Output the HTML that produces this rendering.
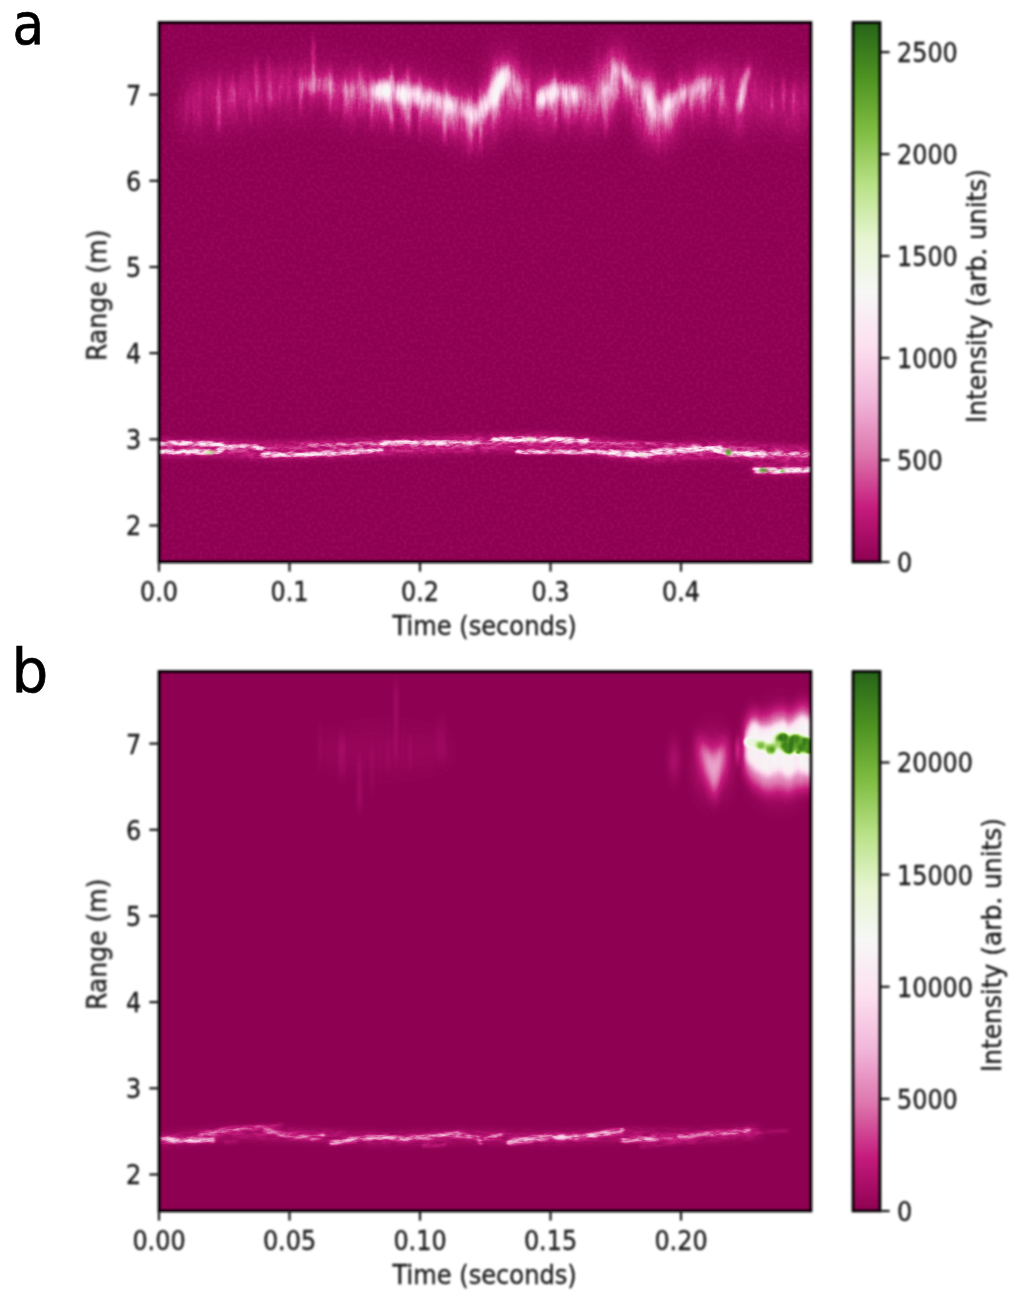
<!DOCTYPE html>
<html lang="en"><head><meta charset="utf-8"><title>Range-time intensity maps</title>
<style>html,body{margin:0;padding:0;background:#fff}body{width:1025px;height:1296px;overflow:hidden}svg{display:block}text{white-space:pre}</style>
</head><body>
<svg width="1025" height="1296" viewBox="0 0 1025 1296">
<defs>
<filter id="cmA1" filterUnits="userSpaceOnUse" x="150" y="15" width="670" height="285" color-interpolation-filters="sRGB"><feTurbulence type="fractalNoise" baseFrequency="0.11 0.02" numOctaves="3" seed="11" result="s"/><feColorMatrix in="s" type="matrix" values="2.2 0 0 0 -0.6  2.2 0 0 0 -0.6  2.2 0 0 0 -0.6  0 0 0 0 1" result="s2"/><feComposite in="SourceGraphic" in2="s2" operator="arithmetic" k1="0.6" k2="0.58" k3="0" k4="0" result="m"/><feTurbulence type="fractalNoise" baseFrequency="0.28" numOctaves="1" seed="7" result="n"/><feColorMatrix in="n" type="matrix" values="0.06 0 0 0 -0.0265  0.06 0 0 0 -0.0265  0.06 0 0 0 -0.0265  0 0 0 0 1" result="n2"/><feComposite in="m" in2="n2" operator="arithmetic" k1="0" k2="1" k3="1" k4="0"/><feComponentTransfer><feFuncR type="table" tableValues="0.5569 0.7725 0.8706 0.9451 0.9922 0.9686 0.9686 0.9686 0.9686 0.9686 0.9686"/><feFuncG type="table" tableValues="0.0039 0.1059 0.4667 0.7137 0.8784 0.9686 0.9686 0.9686 0.9686 0.9686 0.9686"/><feFuncB type="table" tableValues="0.3216 0.4902 0.6824 0.8549 0.9373 0.9686 0.9686 0.9686 0.9686 0.9686 0.9686"/></feComponentTransfer></filter>
<filter id="cmA2" filterUnits="userSpaceOnUse" x="150" y="300" width="670" height="270" color-interpolation-filters="sRGB"><feTurbulence type="fractalNoise" baseFrequency="0.11 0.3" numOctaves="3" seed="5" result="s"/><feColorMatrix in="s" type="matrix" values="2.2 0 0 0 -0.6  2.2 0 0 0 -0.6  2.2 0 0 0 -0.6  0 0 0 0 1" result="s2"/><feComposite in="SourceGraphic" in2="s2" operator="arithmetic" k1="0.8" k2="0.42" k3="0" k4="0" result="m"/><feTurbulence type="fractalNoise" baseFrequency="0.28" numOctaves="1" seed="7" result="n"/><feColorMatrix in="n" type="matrix" values="0.06 0 0 0 -0.0265  0.06 0 0 0 -0.0265  0.06 0 0 0 -0.0265  0 0 0 0 1" result="n2"/><feComposite in="m" in2="n2" operator="arithmetic" k1="0" k2="1" k3="1" k4="0"/><feComponentTransfer><feFuncR type="table" tableValues="0.5569 0.7725 0.8706 0.9451 0.9922 0.9686 0.9020 0.7216 0.4980 0.3020 0.1529"/><feFuncG type="table" tableValues="0.0039 0.1059 0.4667 0.7137 0.8784 0.9686 0.9608 0.8824 0.7373 0.5725 0.3922"/><feFuncB type="table" tableValues="0.3216 0.4902 0.6824 0.8549 0.9373 0.9686 0.8157 0.5255 0.2549 0.1294 0.0980"/></feComponentTransfer></filter>
<filter id="cmB1" filterUnits="userSpaceOnUse" x="150" y="664" width="670" height="336" color-interpolation-filters="sRGB"><feTurbulence type="fractalNoise" baseFrequency="0.14 0.025" numOctaves="2" seed="3" result="s"/><feColorMatrix in="s" type="matrix" values="2.2 0 0 0 -0.6  2.2 0 0 0 -0.6  2.2 0 0 0 -0.6  0 0 0 0 1" result="s2"/><feComposite in="SourceGraphic" in2="s2" operator="arithmetic" k1="0.1" k2="0.9" k3="0" k4="0"/><feComponentTransfer><feFuncR type="table" tableValues="0.5569 0.7725 0.8706 0.9451 0.9922 0.9686 0.9020 0.7216 0.4980 0.3020 0.1529"/><feFuncG type="table" tableValues="0.0039 0.1059 0.4667 0.7137 0.8784 0.9686 0.9608 0.8824 0.7373 0.5725 0.3922"/><feFuncB type="table" tableValues="0.3216 0.4902 0.6824 0.8549 0.9373 0.9686 0.8157 0.5255 0.2549 0.1294 0.0980"/></feComponentTransfer></filter>
<filter id="cmB2" filterUnits="userSpaceOnUse" x="150" y="1000" width="670" height="220" color-interpolation-filters="sRGB"><feTurbulence type="fractalNoise" baseFrequency="0.09 0.3" numOctaves="3" seed="9" result="s"/><feColorMatrix in="s" type="matrix" values="2.2 0 0 0 -0.6  2.2 0 0 0 -0.6  2.2 0 0 0 -0.6  0 0 0 0 1" result="s2"/><feComposite in="SourceGraphic" in2="s2" operator="arithmetic" k1="0.7" k2="0.45" k3="0" k4="0"/><feComponentTransfer><feFuncR type="table" tableValues="0.5569 0.7725 0.8706 0.9451 0.9922 0.9686 0.9020 0.7216 0.4980 0.3020 0.1529"/><feFuncG type="table" tableValues="0.0039 0.1059 0.4667 0.7137 0.8784 0.9686 0.9608 0.8824 0.7373 0.5725 0.3922"/><feFuncB type="table" tableValues="0.3216 0.4902 0.6824 0.8549 0.9373 0.9686 0.8157 0.5255 0.2549 0.1294 0.0980"/></feComponentTransfer></filter>
<filter id="bHaze" filterUnits="userSpaceOnUse" x="100" y="0" width="780" height="1296" color-interpolation-filters="sRGB"><feGaussianBlur stdDeviation="7 16"/></filter>
<filter id="bGlow" filterUnits="userSpaceOnUse" x="100" y="0" width="780" height="1296" color-interpolation-filters="sRGB"><feGaussianBlur stdDeviation="3.5 9"/></filter>
<filter id="bCore" filterUnits="userSpaceOnUse" x="100" y="0" width="780" height="1296" color-interpolation-filters="sRGB"><feGaussianBlur stdDeviation="2.2 4.5"/></filter>
<filter id="bStreak" filterUnits="userSpaceOnUse" x="100" y="0" width="780" height="1296" color-interpolation-filters="sRGB"><feGaussianBlur stdDeviation="1.6 7"/></filter>
<filter id="bLine" filterUnits="userSpaceOnUse" x="100" y="0" width="780" height="1296" color-interpolation-filters="sRGB"><feGaussianBlur stdDeviation="1.3 1.1"/></filter>
<filter id="bLineB" filterUnits="userSpaceOnUse" x="100" y="0" width="780" height="1296" color-interpolation-filters="sRGB"><feGaussianBlur stdDeviation="1.7 1.4"/></filter>
<filter id="bLineG" filterUnits="userSpaceOnUse" x="100" y="0" width="780" height="1296" color-interpolation-filters="sRGB"><feGaussianBlur stdDeviation="3 3.2"/></filter>
<filter id="bSpot" filterUnits="userSpaceOnUse" x="100" y="0" width="780" height="1296" color-interpolation-filters="sRGB"><feGaussianBlur stdDeviation="0.9 0.9"/></filter>
<filter id="bHalo" filterUnits="userSpaceOnUse" x="100" y="0" width="780" height="1296" color-interpolation-filters="sRGB"><feGaussianBlur stdDeviation="3.2 6"/></filter>
<filter id="bHalo2" filterUnits="userSpaceOnUse" x="100" y="0" width="780" height="1296" color-interpolation-filters="sRGB"><feGaussianBlur stdDeviation="2.0 3.0"/></filter>
<filter id="bHaloW" filterUnits="userSpaceOnUse" x="100" y="0" width="780" height="1296" color-interpolation-filters="sRGB"><feGaussianBlur stdDeviation="5 14"/></filter>
<filter id="bGreen" filterUnits="userSpaceOnUse" x="100" y="0" width="780" height="1296" color-interpolation-filters="sRGB"><feGaussianBlur stdDeviation="1.6 1.6"/></filter>
<filter id="bFaint" filterUnits="userSpaceOnUse" x="100" y="0" width="780" height="1296" color-interpolation-filters="sRGB"><feGaussianBlur stdDeviation="3 10"/></filter>
<filter id="soft" filterUnits="userSpaceOnUse" x="0" y="0" width="1025" height="1296" color-interpolation-filters="sRGB"><feGaussianBlur stdDeviation="0.85"/></filter>
<filter id="spotcm" filterUnits="userSpaceOnUse" x="150" y="400" width="670" height="120" color-interpolation-filters="sRGB"><feGaussianBlur stdDeviation="0.9"/><feComponentTransfer><feFuncR type="table" tableValues="0.5569 0.7725 0.8706 0.9451 0.9922 0.9686 0.9020 0.7216 0.4980 0.3020 0.1529"/><feFuncG type="table" tableValues="0.0039 0.1059 0.4667 0.7137 0.8784 0.9686 0.9608 0.8824 0.7373 0.5725 0.3922"/><feFuncB type="table" tableValues="0.3216 0.4902 0.6824 0.8549 0.9373 0.9686 0.8157 0.5255 0.2549 0.1294 0.0980"/></feComponentTransfer></filter>
<linearGradient id="piyg" x1="0" y1="1" x2="0" y2="0">
<stop offset="0.0" stop-color="rgb(142,1,82)"/>
<stop offset="0.1" stop-color="rgb(197,27,125)"/>
<stop offset="0.2" stop-color="rgb(222,119,174)"/>
<stop offset="0.3" stop-color="rgb(241,182,218)"/>
<stop offset="0.4" stop-color="rgb(253,224,239)"/>
<stop offset="0.5" stop-color="rgb(247,247,247)"/>
<stop offset="0.6" stop-color="rgb(230,245,208)"/>
<stop offset="0.7" stop-color="rgb(184,225,134)"/>
<stop offset="0.8" stop-color="rgb(127,188,65)"/>
<stop offset="0.9" stop-color="rgb(77,146,33)"/>
<stop offset="1.0" stop-color="rgb(39,100,25)"/>
</linearGradient>
<clipPath id="clipA"><rect x="159.0" y="22.5" width="652.0" height="539.5"/></clipPath>
<clipPath id="clipB"><rect x="159.0" y="671.5" width="652.0" height="539.5"/></clipPath>
</defs>
<rect width="1025" height="1296" fill="#fff"/>
<rect x="159.0" y="22.5" width="652.0" height="539.5" fill="#8e0152"/>
<g clip-path="url(#clipA)"><g filter="url(#cmA1)">
<rect x="150" y="15" width="670" height="285" fill="#000"/>
<g filter="url(#bHaze)">
<polyline points="197.0,106.0 222.0,99.0 254.0,94.0 290.0,90.0 312.0,86.0 350.0,95.0 380.0,99.0 400.0,99.0 420.0,102.0 439.0,106.0 458.0,114.0 471.0,121.0 482.0,116.0 492.0,106.0 500.0,90.0 505.0,79.0 511.0,86.0 517.0,95.0 530.0,103.0 547.0,104.0 560.0,99.0 575.0,102.0 592.0,103.0 604.0,98.0 610.0,84.0 615.0,72.0 622.0,80.0 630.0,87.0 644.0,93.0 652.0,108.0 658.0,123.0 669.0,108.0 688.0,98.0 711.0,89.0 730.0,98.0 741.0,106.0 747.0,86.0 770.0,101.0 790.0,104.0 808.0,106.0" fill="none" stroke="#808080" stroke-width="38" stroke-opacity="0.18" stroke-linecap="round" stroke-linejoin="round"/>
<polyline points="350.0,95.0 380.0,99.0 400.0,99.0 420.0,102.0 439.0,106.0 458.0,114.0 471.0,121.0 482.0,116.0 492.0,106.0 500.0,90.0 505.0,79.0 511.0,86.0 517.0,95.0 530.0,103.0 547.0,104.0 560.0,99.0 575.0,102.0 592.0,103.0 604.0,98.0 610.0,84.0 615.0,72.0 622.0,80.0 630.0,87.0 644.0,93.0 652.0,108.0 658.0,123.0 669.0,108.0 688.0,98.0 711.0,89.0 730.0,98.0 741.0,106.0" fill="none" stroke="#808080" stroke-width="30" stroke-opacity="0.17" stroke-linecap="round" stroke-linejoin="round"/>
</g>
<g filter="url(#bGlow)">
<polyline points="380.0,96.0 400.0,96.0 420.0,99.0 439.0,103.0 458.0,111.0 471.0,118.0 482.0,113.0 492.0,103.0 500.0,87.0 505.0,76.0 511.0,83.0 517.0,92.0" fill="none" stroke="#808080" stroke-width="20" stroke-opacity="0.28" stroke-linecap="round" stroke-linejoin="round"/>
<polyline points="547.0,101.0 560.0,96.0 575.0,99.0 592.0,100.0 604.0,95.0 610.0,81.0 615.0,69.0 622.0,77.0 630.0,84.0 644.0,90.0 652.0,105.0 658.0,120.0 669.0,105.0 688.0,95.0 711.0,86.0" fill="none" stroke="#808080" stroke-width="20" stroke-opacity="0.28" stroke-linecap="round" stroke-linejoin="round"/>
<polyline points="222.0,95.0 254.0,90.0 290.0,86.0 312.0,82.0 350.0,91.0 380.0,95.0" fill="none" stroke="#808080" stroke-width="22" stroke-opacity="0.08" stroke-linecap="round" stroke-linejoin="round"/>
</g>
<g filter="url(#bStreak)">
<line x1="187" y1="95" x2="187" y2="125" stroke="#808080" stroke-width="3" stroke-opacity="0.14"/>
<line x1="200" y1="85" x2="200" y2="120" stroke="#808080" stroke-width="3" stroke-opacity="0.11"/>
<line x1="219" y1="79" x2="219" y2="127" stroke="#808080" stroke-width="3" stroke-opacity="0.26"/>
<line x1="234" y1="82" x2="234" y2="100" stroke="#808080" stroke-width="3" stroke-opacity="0.22"/>
<line x1="250" y1="89" x2="250" y2="120" stroke="#808080" stroke-width="3" stroke-opacity="0.24"/>
<line x1="256" y1="63" x2="256" y2="95" stroke="#808080" stroke-width="3" stroke-opacity="0.22"/>
<line x1="268" y1="62" x2="268" y2="100" stroke="#808080" stroke-width="4" stroke-opacity="0.22"/>
<line x1="273" y1="70" x2="273" y2="105" stroke="#808080" stroke-width="3" stroke-opacity="0.19"/>
<line x1="289" y1="63" x2="289" y2="95" stroke="#808080" stroke-width="3" stroke-opacity="0.22"/>
<line x1="313" y1="41" x2="313" y2="88" stroke="#808080" stroke-width="3" stroke-opacity="0.3"/>
<line x1="300" y1="70" x2="300" y2="110" stroke="#808080" stroke-width="4" stroke-opacity="0.19"/>
<line x1="330" y1="70" x2="330" y2="110" stroke="#808080" stroke-width="4" stroke-opacity="0.19"/>
<line x1="345" y1="75" x2="345" y2="115" stroke="#808080" stroke-width="4" stroke-opacity="0.19"/>
<line x1="360" y1="70" x2="360" y2="112" stroke="#808080" stroke-width="4" stroke-opacity="0.22"/>
<line x1="372" y1="78" x2="372" y2="125" stroke="#808080" stroke-width="4" stroke-opacity="0.22"/>
<line x1="392" y1="70" x2="392" y2="128" stroke="#808080" stroke-width="5" stroke-opacity="0.3"/>
<line x1="408" y1="72" x2="408" y2="130" stroke="#808080" stroke-width="5" stroke-opacity="0.3"/>
<line x1="420" y1="80" x2="420" y2="135" stroke="#808080" stroke-width="4" stroke-opacity="0.22"/>
<line x1="445" y1="85" x2="445" y2="140" stroke="#808080" stroke-width="4" stroke-opacity="0.22"/>
<line x1="470" y1="95" x2="470" y2="150" stroke="#808080" stroke-width="5" stroke-opacity="0.26"/>
<line x1="480" y1="95" x2="480" y2="150" stroke="#808080" stroke-width="4" stroke-opacity="0.22"/>
<line x1="555" y1="75" x2="555" y2="125" stroke="#808080" stroke-width="5" stroke-opacity="0.26"/>
<line x1="568" y1="78" x2="568" y2="125" stroke="#808080" stroke-width="4" stroke-opacity="0.22"/>
<line x1="606" y1="65" x2="606" y2="130" stroke="#808080" stroke-width="4" stroke-opacity="0.22"/>
<line x1="658" y1="100" x2="658" y2="150" stroke="#808080" stroke-width="4" stroke-opacity="0.26"/>
<line x1="772" y1="80" x2="772" y2="108" stroke="#808080" stroke-width="3" stroke-opacity="0.22"/>
<line x1="783" y1="84" x2="783" y2="108" stroke="#808080" stroke-width="3" stroke-opacity="0.19"/>
<line x1="793" y1="86" x2="793" y2="110" stroke="#808080" stroke-width="3" stroke-opacity="0.17"/>
<line x1="803" y1="88" x2="803" y2="110" stroke="#808080" stroke-width="3" stroke-opacity="0.15"/>
<line x1="722" y1="84" x2="722" y2="110" stroke="#808080" stroke-width="3" stroke-opacity="0.15"/>
</g>
<g filter="url(#bCore)">
<polyline points="380.0,92.0 392.0,90.0 400.0,94.0 412.0,96.0 422.0,98.0" fill="none" stroke="#808080" stroke-width="13" stroke-opacity="0.95" stroke-linecap="round" stroke-linejoin="round"/>
<polyline points="430.0,98.0 445.0,102.0 458.0,108.0 470.0,115.0 478.0,114.0" fill="none" stroke="#808080" stroke-width="11" stroke-opacity="0.62" stroke-linecap="round" stroke-linejoin="round"/>
<polyline points="472.0,116.0 484.0,108.0 493.0,98.0 500.0,84.0 505.0,74.0" fill="none" stroke="#808080" stroke-width="10" stroke-opacity="0.95" stroke-linecap="round" stroke-linejoin="round"/>
<polyline points="505.0,76.0 511.0,82.0 517.0,89.0" fill="none" stroke="#808080" stroke-width="8" stroke-opacity="0.55" stroke-linecap="round" stroke-linejoin="round"/>
<polyline points="542.0,99.0 552.0,94.0 562.0,92.0 574.0,95.0" fill="none" stroke="#808080" stroke-width="12" stroke-opacity="0.85" stroke-linecap="round" stroke-linejoin="round"/>
<polyline points="606.0,92.0 611.0,78.0 615.0,68.0" fill="none" stroke="#808080" stroke-width="6" stroke-opacity="0.48" stroke-linecap="round" stroke-linejoin="round"/>
<polyline points="616.0,68.0 624.0,76.0 632.0,82.0 644.0,87.0" fill="none" stroke="#808080" stroke-width="8" stroke-opacity="0.48" stroke-linecap="round" stroke-linejoin="round"/>
<polyline points="646.0,92.0 652.0,104.0 658.0,117.0" fill="none" stroke="#808080" stroke-width="8" stroke-opacity="0.62" stroke-linecap="round" stroke-linejoin="round"/>
<polyline points="659.0,115.0 669.0,102.0 680.0,96.0 690.0,92.0" fill="none" stroke="#808080" stroke-width="8" stroke-opacity="0.58" stroke-linecap="round" stroke-linejoin="round"/>
<polyline points="692.0,91.0 702.0,86.0 711.0,83.0" fill="none" stroke="#808080" stroke-width="7" stroke-opacity="0.38" stroke-linecap="round" stroke-linejoin="round"/>
<polyline points="748.0,70.0 745.0,84.0 741.0,100.0 739.0,107.0" fill="none" stroke="#808080" stroke-width="4" stroke-opacity="0.7" stroke-linecap="round" stroke-linejoin="round"/>
<polyline points="300.0,86.0 320.0,84.0 345.0,89.0 368.0,92.0" fill="none" stroke="#808080" stroke-width="13" stroke-opacity="0.22" stroke-linecap="round" stroke-linejoin="round"/>
</g>
</g><g filter="url(#cmA2)">
<rect x="150" y="300" width="670" height="270" fill="#000"/>
<g filter="url(#bLineG)">
<polyline points="160.0,448.0 222.0,448.0 262.0,451.0 382.0,447.0 471.0,444.0 548.0,442.0 606.0,448.0 650.0,453.0 720.0,450.0 765.0,453.0 811.0,455.0" fill="none" stroke="#808080" stroke-width="16" stroke-opacity="0.24" stroke-linecap="butt" stroke-linejoin="round"/>
<polyline points="752.0,470.0 811.0,470.0" fill="none" stroke="#808080" stroke-width="8" stroke-opacity="0.25" stroke-linecap="butt" stroke-linejoin="round"/>
</g>
<g filter="url(#bLine)">
<polyline points="160.0,443.5 185.0,443.0 222.0,444.5" fill="none" stroke="#808080" stroke-width="3.6" stroke-opacity="0.9" stroke-linecap="round" stroke-linejoin="round"/>
<polyline points="160.0,452.0 190.0,452.0 215.0,452.0 222.0,449.5" fill="none" stroke="#808080" stroke-width="4.2" stroke-opacity="0.95" stroke-linecap="round" stroke-linejoin="round"/>
<polyline points="222.0,447.0 254.0,446.5 262.0,448.5" fill="none" stroke="#808080" stroke-width="3.6" stroke-opacity="0.8" stroke-linecap="round" stroke-linejoin="round"/>
<polyline points="262.0,454.5 300.0,455.0 340.0,453.0 382.0,449.5" fill="none" stroke="#808080" stroke-width="3.8" stroke-opacity="0.8" stroke-linecap="round" stroke-linejoin="round"/>
<polyline points="300.0,445.0 340.0,444.5 382.0,443.0" fill="none" stroke="#808080" stroke-width="2.6" stroke-opacity="0.4" stroke-linecap="round" stroke-linejoin="round"/>
<polyline points="382.0,443.5 400.0,442.5 430.0,443.0 471.0,443.0" fill="none" stroke="#808080" stroke-width="3.6" stroke-opacity="0.85" stroke-linecap="round" stroke-linejoin="round"/>
<polyline points="471.0,443.0 495.0,441.0" fill="none" stroke="#808080" stroke-width="2.6" stroke-opacity="0.45" stroke-linecap="round" stroke-linejoin="round"/>
<polyline points="494.0,440.0 514.0,439.5 548.0,439.5 587.0,441.0" fill="none" stroke="#808080" stroke-width="4.2" stroke-opacity="0.95" stroke-linecap="round" stroke-linejoin="round"/>
<polyline points="587.0,442.0 640.0,443.0 700.0,446.0" fill="none" stroke="#808080" stroke-width="2.4" stroke-opacity="0.3" stroke-linecap="round" stroke-linejoin="round"/>
<polyline points="517.0,452.0 560.0,452.0 606.0,452.0" fill="none" stroke="#808080" stroke-width="3.4" stroke-opacity="0.8" stroke-linecap="round" stroke-linejoin="round"/>
<polyline points="610.0,453.0 630.0,454.0 650.0,455.0" fill="none" stroke="#808080" stroke-width="5" stroke-opacity="0.95" stroke-linecap="round" stroke-linejoin="round"/>
<polyline points="652.0,452.0 690.0,450.0 720.0,448.0" fill="none" stroke="#808080" stroke-width="4.6" stroke-opacity="0.9" stroke-linecap="round" stroke-linejoin="round"/>
<polyline points="716.0,450.0 730.0,453.0 765.0,454.0" fill="none" stroke="#808080" stroke-width="5" stroke-opacity="0.95" stroke-linecap="round" stroke-linejoin="round"/>
<polyline points="765.0,454.0 790.0,454.0 811.0,454.0" fill="none" stroke="#808080" stroke-width="3.6" stroke-opacity="0.5" stroke-linecap="round" stroke-linejoin="round"/>
<polyline points="755.0,470.0 780.0,471.0 811.0,469.5" fill="none" stroke="#808080" stroke-width="4.4" stroke-opacity="0.95" stroke-linecap="round" stroke-linejoin="round"/>
</g>
</g><g filter="url(#spotcm)">
<ellipse cx="210" cy="452.5" rx="4.4" ry="1.7" fill="rgb(173,173,173)"/>
<ellipse cx="206" cy="452" rx="1.6" ry="1.2" fill="rgb(158,158,158)"/>
<ellipse cx="728.5" cy="452.5" rx="2.8" ry="3" fill="rgb(219,219,219)"/>
<ellipse cx="763" cy="470.3" rx="3.8" ry="2" fill="rgb(224,224,224)"/>
<ellipse cx="782.5" cy="471" rx="2.2" ry="1.8" fill="rgb(214,214,214)"/>
<ellipse cx="530" cy="439" rx="3" ry="1.2" fill="rgb(153,153,153)"/>
<ellipse cx="642" cy="455" rx="2" ry="1.2" fill="rgb(153,153,153)"/>
<ellipse cx="771" cy="470.5" rx="2" ry="1.2" fill="rgb(158,158,158)"/>
</g></g>
<rect x="159.0" y="671.5" width="652.0" height="539.5" fill="#8e0152"/>
<g clip-path="url(#clipB)"><g filter="url(#cmB1)">
<rect x="150" y="664" width="670" height="336" fill="#000"/>
<g filter="url(#bFaint)">
<ellipse cx="385" cy="750" rx="70" ry="22" fill="#808080" fill-opacity="0.03"/>
<ellipse cx="674" cy="760" rx="5" ry="14" fill="#808080" fill-opacity="0.16"/>
</g>
<g filter="url(#bStreak)">
<line x1="342" y1="735" x2="342" y2="775" stroke="#808080" stroke-width="7" stroke-opacity="0.06"/>
<line x1="359.5" y1="758" x2="359.5" y2="808" stroke="#808080" stroke-width="4" stroke-opacity="0.08"/>
<line x1="396" y1="684" x2="396" y2="760" stroke="#808080" stroke-width="4" stroke-opacity="0.07"/>
<line x1="388" y1="740" x2="388" y2="770" stroke="#808080" stroke-width="5" stroke-opacity="0.04"/>
<line x1="441" y1="722" x2="441" y2="760" stroke="#808080" stroke-width="10" stroke-opacity="0.04"/>
<line x1="320" y1="730" x2="320" y2="765" stroke="#808080" stroke-width="5" stroke-opacity="0.03"/>
<line x1="372" y1="745" x2="372" y2="790" stroke="#808080" stroke-width="5" stroke-opacity="0.04"/>
<line x1="410" y1="735" x2="410" y2="770" stroke="#808080" stroke-width="5" stroke-opacity="0.03"/>
<line x1="737.5" y1="740" x2="737.5" y2="760" stroke="#808080" stroke-width="4" stroke-opacity="0.3"/>
</g>
<g filter="url(#bHaloW)">
<ellipse cx="780" cy="754" rx="36" ry="38" fill="#808080" fill-opacity="0.30"/>
<ellipse cx="713" cy="764" rx="20" ry="28" fill="#808080" fill-opacity="0.17"/>
</g>
<g filter="url(#bGlow)">
<polygon points="744,728 752,712 762,722 772,718 782,711 790,719 801,705 812,708 830,708 830,790 809,786 798,782 788,790 779,782 769,788 755,782 745,770" fill="#808080" fill-opacity="0.45"/>
<polygon points="694,734 704,746 714,754 722,746 728,736 726,760 718,786 714,802 710,784 702,764" fill="#808080" fill-opacity="0.36"/>
</g>
<g filter="url(#bHalo2)">
<polygon points="747,735 753,722 762.5,729 772,727.5 782,721.5 790,727.5 801,716 809,719.5 830,719 830,774 809,773.5 798,769 788.5,776.5 779,769 769,775 755,768.5 747,759" fill="#808080"/>
</g>
<g filter="url(#bCore)">
<polygon points="701,744 707,752 714,758 720,752 724,745 721,762 716.5,780 714,790 711.5,778 707,764" fill="#808080" fill-opacity="0.20"/>
</g>
<g filter="url(#bGreen)">
<polyline points="749.0,742.0 757.0,743.5 770.0,747.0 780.0,744.0" fill="none" stroke="rgb(153,153,153)" stroke-width="9" stroke-opacity="1" stroke-linecap="round" stroke-linejoin="round"/>
<polyline points="782.0,741.0 789.0,746.0 796.0,742.0 803.0,745.0 815.0,746.0" fill="none" stroke="rgb(163,163,163)" stroke-width="19" stroke-opacity="1" stroke-linecap="round" stroke-linejoin="round"/>
<polyline points="783.0,740.0 789.0,746.5 796.0,741.5 803.0,745.0 815.0,746.5" fill="none" stroke="rgb(242,242,242)" stroke-width="14" stroke-opacity="1" stroke-linecap="round" stroke-linejoin="round"/>
<circle cx="761" cy="745.2" r="5.2" fill="rgb(199,199,199)"/>
<circle cx="770.7" cy="749.2" r="5.6" fill="rgb(204,204,204)"/>
<circle cx="778.8" cy="743.8" r="3.6" fill="rgb(194,194,194)"/>
</g>
<g filter="url(#bSpot)">
<circle cx="761" cy="745.5" r="2.6" fill="rgb(224,224,224)"/>
<circle cx="771" cy="749.5" r="2.8" fill="rgb(230,230,230)"/>
<circle cx="784" cy="738" r="3.4" fill="rgb(255,255,255)"/>
<circle cx="788.5" cy="749" r="4.2" fill="rgb(255,255,255)"/>
<circle cx="795" cy="739.5" r="3.8" fill="rgb(255,255,255)"/>
<circle cx="801" cy="747" r="3.6" fill="rgb(255,255,255)"/>
<circle cx="806" cy="742" r="3.8" fill="rgb(255,255,255)"/>
<circle cx="809" cy="750" r="3.4" fill="rgb(255,255,255)"/>
<circle cx="792" cy="744" r="3" fill="rgb(255,255,255)"/>
<circle cx="785" cy="745" r="2.8" fill="rgb(255,255,255)"/>
<circle cx="798" cy="752" r="2.4" fill="rgb(255,255,255)"/>
<circle cx="811" cy="745" r="3" fill="rgb(255,255,255)"/>
</g>
</g><g filter="url(#cmB2)">
<rect x="150" y="1000" width="670" height="220" fill="#000"/>
<g filter="url(#bLineG)">
<polyline points="160.0,1140.0 232.0,1133.0 324.0,1136.0 388.0,1139.0 458.0,1136.0 548.0,1138.0 622.0,1135.0 700.0,1136.0 760.0,1132.0" fill="none" stroke="#808080" stroke-width="11" stroke-opacity="0.17" stroke-linecap="butt" stroke-linejoin="round"/>
</g>
<g filter="url(#bLineB)">
<polyline points="160.0,1139.0 175.0,1140.5 213.0,1140.0" fill="none" stroke="#808080" stroke-width="4.3" stroke-opacity="0.7" stroke-linecap="round" stroke-linejoin="round"/>
<polyline points="200.0,1135.0 232.0,1129.0 264.0,1127.0" fill="none" stroke="#808080" stroke-width="3.4" stroke-opacity="0.45" stroke-linecap="round" stroke-linejoin="round"/>
<polyline points="264.0,1127.0 282.0,1125.0" fill="none" stroke="#808080" stroke-width="2.4" stroke-opacity="0.25" stroke-linecap="round" stroke-linejoin="round"/>
<polyline points="264.0,1130.0 286.0,1135.0 312.0,1138.5 324.0,1135.0" fill="none" stroke="#808080" stroke-width="3.4" stroke-opacity="0.49" stroke-linecap="round" stroke-linejoin="round"/>
<polyline points="331.0,1143.0 362.0,1138.5 388.0,1137.0" fill="none" stroke="#808080" stroke-width="3.9" stroke-opacity="0.61" stroke-linecap="round" stroke-linejoin="round"/>
<polyline points="391.0,1138.5 414.0,1138.5 458.0,1134.0" fill="none" stroke="#808080" stroke-width="3.9" stroke-opacity="0.57" stroke-linecap="round" stroke-linejoin="round"/>
<polyline points="458.0,1135.0 477.0,1137.0 481.0,1143.0" fill="none" stroke="#808080" stroke-width="3.4" stroke-opacity="0.45" stroke-linecap="round" stroke-linejoin="round"/>
<polyline points="423.0,1146.0 445.0,1145.0" fill="none" stroke="#808080" stroke-width="2.4" stroke-opacity="0.25" stroke-linecap="round" stroke-linejoin="round"/>
<polyline points="485.0,1138.0 501.0,1135.0" fill="none" stroke="#808080" stroke-width="3.9" stroke-opacity="0.37" stroke-linecap="round" stroke-linejoin="round"/>
<polyline points="509.0,1142.5 548.0,1137.0 580.0,1137.0 622.0,1130.5" fill="none" stroke="#808080" stroke-width="4.3" stroke-opacity="0.7" stroke-linecap="round" stroke-linejoin="round"/>
<polyline points="622.0,1140.5 663.0,1138.5" fill="none" stroke="#808080" stroke-width="3.9" stroke-opacity="0.57" stroke-linecap="round" stroke-linejoin="round"/>
<polyline points="663.0,1138.5 690.0,1137.0" fill="none" stroke="#808080" stroke-width="3" stroke-opacity="0.25" stroke-linecap="round" stroke-linejoin="round"/>
<polyline points="679.0,1137.0 715.0,1133.5 749.0,1130.5" fill="none" stroke="#808080" stroke-width="3.9" stroke-opacity="0.41" stroke-linecap="round" stroke-linejoin="round"/>
<polyline points="641.0,1146.0 695.0,1141.5" fill="none" stroke="#808080" stroke-width="3" stroke-opacity="0.18" stroke-linecap="round" stroke-linejoin="round"/>
<polyline points="755.0,1132.0 787.0,1131.0" fill="none" stroke="#808080" stroke-width="3" stroke-opacity="0.12" stroke-linecap="round" stroke-linejoin="round"/>
<polyline points="225.0,1143.0 238.0,1142.0" fill="none" stroke="#808080" stroke-width="2.4" stroke-opacity="0.16" stroke-linecap="round" stroke-linejoin="round"/>
</g>
</g></g>
<g filter="url(#soft)">
<rect x="853.0" y="22.5" width="27.0" height="539.5" fill="url(#piyg)"/>
<rect x="853.0" y="22.5" width="27.0" height="539.5" fill="none" stroke="#000" stroke-width="2.7"/>
<rect x="159.0" y="22.5" width="652.0" height="539.5" fill="none" stroke="#000" stroke-width="2.7"/>
<line x1="149.4" y1="94.6" x2="159.0" y2="94.6" stroke="#111" stroke-width="2.2"/>
<text transform="translate(141.20 104.50) scale(0.8950 1)" text-anchor="end" font-family='"DejaVu Sans","Liberation Sans",sans-serif' font-size="26.70" fill="#1a1a1a" stroke="#1a1a1a" stroke-width="0.4">7</text>
<line x1="149.4" y1="180.8" x2="159.0" y2="180.8" stroke="#111" stroke-width="2.2"/>
<text transform="translate(141.20 190.68) scale(0.8950 1)" text-anchor="end" font-family='"DejaVu Sans","Liberation Sans",sans-serif' font-size="26.70" fill="#1a1a1a" stroke="#1a1a1a" stroke-width="0.4">6</text>
<line x1="149.4" y1="267.0" x2="159.0" y2="267.0" stroke="#111" stroke-width="2.2"/>
<text transform="translate(141.20 276.86) scale(0.8950 1)" text-anchor="end" font-family='"DejaVu Sans","Liberation Sans",sans-serif' font-size="26.70" fill="#1a1a1a" stroke="#1a1a1a" stroke-width="0.4">5</text>
<line x1="149.4" y1="353.1" x2="159.0" y2="353.1" stroke="#111" stroke-width="2.2"/>
<text transform="translate(141.20 363.04) scale(0.8950 1)" text-anchor="end" font-family='"DejaVu Sans","Liberation Sans",sans-serif' font-size="26.70" fill="#1a1a1a" stroke="#1a1a1a" stroke-width="0.4">4</text>
<line x1="149.4" y1="439.3" x2="159.0" y2="439.3" stroke="#111" stroke-width="2.2"/>
<text transform="translate(141.20 449.22) scale(0.8950 1)" text-anchor="end" font-family='"DejaVu Sans","Liberation Sans",sans-serif' font-size="26.70" fill="#1a1a1a" stroke="#1a1a1a" stroke-width="0.4">3</text>
<line x1="149.4" y1="525.5" x2="159.0" y2="525.5" stroke="#111" stroke-width="2.2"/>
<text transform="translate(141.20 535.40) scale(0.8950 1)" text-anchor="end" font-family='"DejaVu Sans","Liberation Sans",sans-serif' font-size="26.70" fill="#1a1a1a" stroke="#1a1a1a" stroke-width="0.4">2</text>
<line x1="159.0" y1="562.0" x2="159.0" y2="571.6" stroke="#111" stroke-width="2.2"/>
<text transform="translate(159.00 601.20) scale(0.8950 1)" text-anchor="middle" font-family='"DejaVu Sans","Liberation Sans",sans-serif' font-size="26.70" fill="#1a1a1a" stroke="#1a1a1a" stroke-width="0.4">0.0</text>
<line x1="289.5" y1="562.0" x2="289.5" y2="571.6" stroke="#111" stroke-width="2.2"/>
<text transform="translate(289.50 601.20) scale(0.8950 1)" text-anchor="middle" font-family='"DejaVu Sans","Liberation Sans",sans-serif' font-size="26.70" fill="#1a1a1a" stroke="#1a1a1a" stroke-width="0.4">0.1</text>
<line x1="420.0" y1="562.0" x2="420.0" y2="571.6" stroke="#111" stroke-width="2.2"/>
<text transform="translate(420.00 601.20) scale(0.8950 1)" text-anchor="middle" font-family='"DejaVu Sans","Liberation Sans",sans-serif' font-size="26.70" fill="#1a1a1a" stroke="#1a1a1a" stroke-width="0.4">0.2</text>
<line x1="550.5" y1="562.0" x2="550.5" y2="571.6" stroke="#111" stroke-width="2.2"/>
<text transform="translate(550.50 601.20) scale(0.8950 1)" text-anchor="middle" font-family='"DejaVu Sans","Liberation Sans",sans-serif' font-size="26.70" fill="#1a1a1a" stroke="#1a1a1a" stroke-width="0.4">0.3</text>
<line x1="681.0" y1="562.0" x2="681.0" y2="571.6" stroke="#111" stroke-width="2.2"/>
<text transform="translate(681.00 601.20) scale(0.8950 1)" text-anchor="middle" font-family='"DejaVu Sans","Liberation Sans",sans-serif' font-size="26.70" fill="#1a1a1a" stroke="#1a1a1a" stroke-width="0.4">0.4</text>
<line x1="880.0" y1="562.0" x2="889.6" y2="562.0" stroke="#111" stroke-width="2.2"/>
<text transform="translate(897.00 571.90) scale(0.8950 1)" text-anchor="start" font-family='"DejaVu Sans","Liberation Sans",sans-serif' font-size="26.70" fill="#1a1a1a" stroke="#1a1a1a" stroke-width="0.4">0</text>
<line x1="880.0" y1="460.0" x2="889.6" y2="460.0" stroke="#111" stroke-width="2.2"/>
<text transform="translate(897.00 469.92) scale(0.8950 1)" text-anchor="start" font-family='"DejaVu Sans","Liberation Sans",sans-serif' font-size="26.70" fill="#1a1a1a" stroke="#1a1a1a" stroke-width="0.4">500</text>
<line x1="880.0" y1="358.0" x2="889.6" y2="358.0" stroke="#111" stroke-width="2.2"/>
<text transform="translate(897.00 367.93) scale(0.8950 1)" text-anchor="start" font-family='"DejaVu Sans","Liberation Sans",sans-serif' font-size="26.70" fill="#1a1a1a" stroke="#1a1a1a" stroke-width="0.4">1000</text>
<line x1="880.0" y1="256.0" x2="889.6" y2="256.0" stroke="#111" stroke-width="2.2"/>
<text transform="translate(897.00 265.95) scale(0.8950 1)" text-anchor="start" font-family='"DejaVu Sans","Liberation Sans",sans-serif' font-size="26.70" fill="#1a1a1a" stroke="#1a1a1a" stroke-width="0.4">1500</text>
<line x1="880.0" y1="154.1" x2="889.6" y2="154.1" stroke="#111" stroke-width="2.2"/>
<text transform="translate(897.00 163.96) scale(0.8950 1)" text-anchor="start" font-family='"DejaVu Sans","Liberation Sans",sans-serif' font-size="26.70" fill="#1a1a1a" stroke="#1a1a1a" stroke-width="0.4">2000</text>
<line x1="880.0" y1="52.1" x2="889.6" y2="52.1" stroke="#111" stroke-width="2.2"/>
<text transform="translate(897.00 61.98) scale(0.8950 1)" text-anchor="start" font-family='"DejaVu Sans","Liberation Sans",sans-serif' font-size="26.70" fill="#1a1a1a" stroke="#1a1a1a" stroke-width="0.4">2500</text>
<text transform="translate(484.60 634.50) scale(0.9050 1)" text-anchor="middle" font-family='"DejaVu Sans","Liberation Sans",sans-serif' font-size="26.70" fill="#1a1a1a" stroke="#1a1a1a" stroke-width="0.4">Time (seconds)</text>
<text transform="translate(106.20 295.25) rotate(-90) scale(0.9380 1)" text-anchor="middle" font-family='"DejaVu Sans","Liberation Sans",sans-serif' font-size="26.70" fill="#1a1a1a" stroke="#1a1a1a" stroke-width="0.4">Range (m)</text>
<text transform="translate(985.50 296.05) rotate(-90) scale(0.9330 1)" text-anchor="middle" font-family='"DejaVu Sans","Liberation Sans",sans-serif' font-size="26.70" fill="#1a1a1a" stroke="#1a1a1a" stroke-width="0.4">Intensity (arb. units)</text>
<rect x="853.0" y="671.5" width="27.0" height="539.5" fill="url(#piyg)"/>
<rect x="853.0" y="671.5" width="27.0" height="539.5" fill="none" stroke="#000" stroke-width="2.7"/>
<rect x="159.0" y="671.5" width="652.0" height="539.5" fill="none" stroke="#000" stroke-width="2.7"/>
<line x1="149.4" y1="743.6" x2="159.0" y2="743.6" stroke="#111" stroke-width="2.2"/>
<text transform="translate(141.20 753.50) scale(0.8950 1)" text-anchor="end" font-family='"DejaVu Sans","Liberation Sans",sans-serif' font-size="26.70" fill="#1a1a1a" stroke="#1a1a1a" stroke-width="0.4">7</text>
<line x1="149.4" y1="829.8" x2="159.0" y2="829.8" stroke="#111" stroke-width="2.2"/>
<text transform="translate(141.20 839.68) scale(0.8950 1)" text-anchor="end" font-family='"DejaVu Sans","Liberation Sans",sans-serif' font-size="26.70" fill="#1a1a1a" stroke="#1a1a1a" stroke-width="0.4">6</text>
<line x1="149.4" y1="916.0" x2="159.0" y2="916.0" stroke="#111" stroke-width="2.2"/>
<text transform="translate(141.20 925.86) scale(0.8950 1)" text-anchor="end" font-family='"DejaVu Sans","Liberation Sans",sans-serif' font-size="26.70" fill="#1a1a1a" stroke="#1a1a1a" stroke-width="0.4">5</text>
<line x1="149.4" y1="1002.1" x2="159.0" y2="1002.1" stroke="#111" stroke-width="2.2"/>
<text transform="translate(141.20 1012.04) scale(0.8950 1)" text-anchor="end" font-family='"DejaVu Sans","Liberation Sans",sans-serif' font-size="26.70" fill="#1a1a1a" stroke="#1a1a1a" stroke-width="0.4">4</text>
<line x1="149.4" y1="1088.3" x2="159.0" y2="1088.3" stroke="#111" stroke-width="2.2"/>
<text transform="translate(141.20 1098.22) scale(0.8950 1)" text-anchor="end" font-family='"DejaVu Sans","Liberation Sans",sans-serif' font-size="26.70" fill="#1a1a1a" stroke="#1a1a1a" stroke-width="0.4">3</text>
<line x1="149.4" y1="1174.5" x2="159.0" y2="1174.5" stroke="#111" stroke-width="2.2"/>
<text transform="translate(141.20 1184.40) scale(0.8950 1)" text-anchor="end" font-family='"DejaVu Sans","Liberation Sans",sans-serif' font-size="26.70" fill="#1a1a1a" stroke="#1a1a1a" stroke-width="0.4">2</text>
<line x1="159.0" y1="1211.0" x2="159.0" y2="1220.6" stroke="#111" stroke-width="2.2"/>
<text transform="translate(159.00 1250.20) scale(0.8950 1)" text-anchor="middle" font-family='"DejaVu Sans","Liberation Sans",sans-serif' font-size="26.70" fill="#1a1a1a" stroke="#1a1a1a" stroke-width="0.4">0.00</text>
<line x1="289.5" y1="1211.0" x2="289.5" y2="1220.6" stroke="#111" stroke-width="2.2"/>
<text transform="translate(289.50 1250.20) scale(0.8950 1)" text-anchor="middle" font-family='"DejaVu Sans","Liberation Sans",sans-serif' font-size="26.70" fill="#1a1a1a" stroke="#1a1a1a" stroke-width="0.4">0.05</text>
<line x1="420.0" y1="1211.0" x2="420.0" y2="1220.6" stroke="#111" stroke-width="2.2"/>
<text transform="translate(420.00 1250.20) scale(0.8950 1)" text-anchor="middle" font-family='"DejaVu Sans","Liberation Sans",sans-serif' font-size="26.70" fill="#1a1a1a" stroke="#1a1a1a" stroke-width="0.4">0.10</text>
<line x1="550.5" y1="1211.0" x2="550.5" y2="1220.6" stroke="#111" stroke-width="2.2"/>
<text transform="translate(550.50 1250.20) scale(0.8950 1)" text-anchor="middle" font-family='"DejaVu Sans","Liberation Sans",sans-serif' font-size="26.70" fill="#1a1a1a" stroke="#1a1a1a" stroke-width="0.4">0.15</text>
<line x1="681.0" y1="1211.0" x2="681.0" y2="1220.6" stroke="#111" stroke-width="2.2"/>
<text transform="translate(681.00 1250.20) scale(0.8950 1)" text-anchor="middle" font-family='"DejaVu Sans","Liberation Sans",sans-serif' font-size="26.70" fill="#1a1a1a" stroke="#1a1a1a" stroke-width="0.4">0.20</text>
<line x1="880.0" y1="1211.0" x2="889.6" y2="1211.0" stroke="#111" stroke-width="2.2"/>
<text transform="translate(897.00 1220.90) scale(0.8950 1)" text-anchor="start" font-family='"DejaVu Sans","Liberation Sans",sans-serif' font-size="26.70" fill="#1a1a1a" stroke="#1a1a1a" stroke-width="0.4">0</text>
<line x1="880.0" y1="1098.9" x2="889.6" y2="1098.9" stroke="#111" stroke-width="2.2"/>
<text transform="translate(897.00 1108.78) scale(0.8950 1)" text-anchor="start" font-family='"DejaVu Sans","Liberation Sans",sans-serif' font-size="26.70" fill="#1a1a1a" stroke="#1a1a1a" stroke-width="0.4">5000</text>
<line x1="880.0" y1="986.8" x2="889.6" y2="986.8" stroke="#111" stroke-width="2.2"/>
<text transform="translate(897.00 996.65) scale(0.8950 1)" text-anchor="start" font-family='"DejaVu Sans","Liberation Sans",sans-serif' font-size="26.70" fill="#1a1a1a" stroke="#1a1a1a" stroke-width="0.4">10000</text>
<line x1="880.0" y1="874.6" x2="889.6" y2="874.6" stroke="#111" stroke-width="2.2"/>
<text transform="translate(897.00 884.53) scale(0.8950 1)" text-anchor="start" font-family='"DejaVu Sans","Liberation Sans",sans-serif' font-size="26.70" fill="#1a1a1a" stroke="#1a1a1a" stroke-width="0.4">15000</text>
<line x1="880.0" y1="762.5" x2="889.6" y2="762.5" stroke="#111" stroke-width="2.2"/>
<text transform="translate(897.00 772.40) scale(0.8950 1)" text-anchor="start" font-family='"DejaVu Sans","Liberation Sans",sans-serif' font-size="26.70" fill="#1a1a1a" stroke="#1a1a1a" stroke-width="0.4">20000</text>
<text transform="translate(484.60 1283.50) scale(0.9050 1)" text-anchor="middle" font-family='"DejaVu Sans","Liberation Sans",sans-serif' font-size="26.70" fill="#1a1a1a" stroke="#1a1a1a" stroke-width="0.4">Time (seconds)</text>
<text transform="translate(106.20 944.25) rotate(-90) scale(0.9380 1)" text-anchor="middle" font-family='"DejaVu Sans","Liberation Sans",sans-serif' font-size="26.70" fill="#1a1a1a" stroke="#1a1a1a" stroke-width="0.4">Range (m)</text>
<text transform="translate(1001.00 945.05) rotate(-90) scale(0.9330 1)" text-anchor="middle" font-family='"DejaVu Sans","Liberation Sans",sans-serif' font-size="26.70" fill="#1a1a1a" stroke="#1a1a1a" stroke-width="0.4">Intensity (arb. units)</text>
</g>
<text transform="translate(12.40 43.50) scale(0.9150 1)" text-anchor="start" font-family='"DejaVu Sans","Liberation Sans",sans-serif' font-size="56.50" fill="#000" stroke="#000" stroke-width="0.7">a</text>
<text transform="translate(11.60 692.30) scale(0.9650 1)" text-anchor="start" font-family='"DejaVu Sans","Liberation Sans",sans-serif' font-size="60.00" fill="#000" stroke="#000" stroke-width="0.7">b</text>
</svg>
</body></html>
